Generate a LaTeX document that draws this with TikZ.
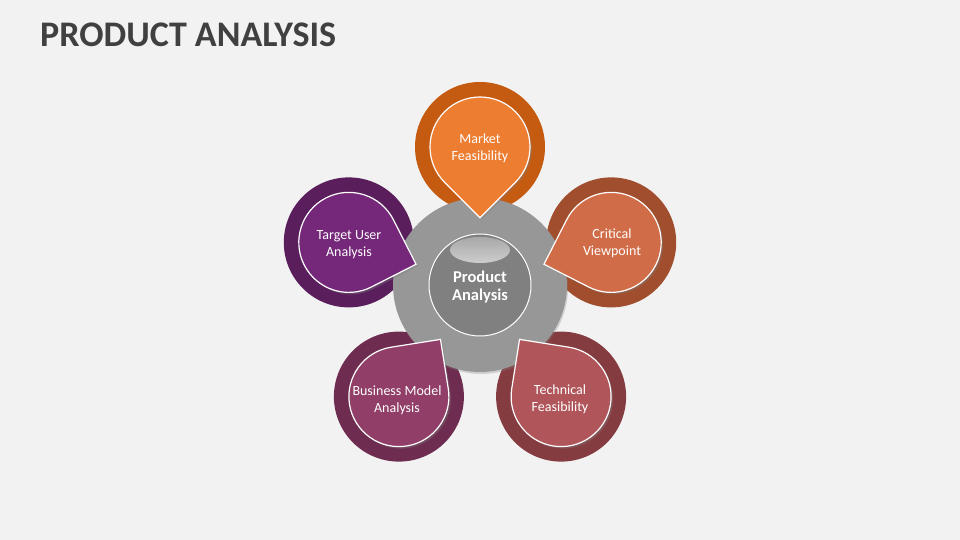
\documentclass[tikz,border=0pt]{standalone}
\usepackage{fontspec}
\setmainfont{Carlito}
\usetikzlibrary{shadows}
\definecolor{backdrop}{RGB}{242, 242, 242}
\definecolor{heading}{RGB}{64, 64, 64}
\definecolor{hubouter}{RGB}{151, 151, 151}
\definecolor{hubinner}{RGB}{128, 128, 128}
\definecolor{glosstop}{RGB}{168, 168, 168}
\definecolor{glossbottom}{RGB}{205, 205, 205}
\definecolor{marketdark}{RGB}{197, 90, 17}
\definecolor{marketlight}{RGB}{237, 125, 49}
\definecolor{criticaldark}{RGB}{160, 78, 45}
\definecolor{criticallight}{RGB}{208, 108, 72}
\definecolor{technicaldark}{RGB}{133, 60, 64}
\definecolor{technicallight}{RGB}{176, 86, 90}
\definecolor{businessdark}{RGB}{110, 45, 80}
\definecolor{businesslight}{RGB}{145, 62, 104}
\definecolor{targetdark}{RGB}{90, 30, 92}
\definecolor{targetlight}{RGB}{117, 40, 122}

\begin{document}
\begin{tikzpicture}[x=1pt, y=1pt,
    ring/.style={fill=#1},
    drop/.style={fill=#1, draw=white, line width=1.2pt, drop shadow={shadow xshift=2pt, shadow yshift=-2pt, opacity=0.35}},
    caption/.style={text=white, align=center, font=\fontsize{14}{17}\selectfont}]
    \fill[backdrop] (0,0) rectangle (960,540);

    \node[anchor=base west, inner sep=0, text=heading, font=\fontsize{36}{40}\selectfont\bfseries] (title) at (40,493) {PRODUCT ANALYSIS};

    \fill[ring=marketdark] (480,393) circle[radius=65];
    \fill[ring=criticaldark] (611.2,297.6) circle[radius=65];
    \fill[ring=technicaldark] (561.1,143.4) circle[radius=65];
    \fill[ring=businessdark] (398.9,143.4) circle[radius=65];
    \fill[ring=targetdark] (348.8,297.6) circle[radius=65];

    \fill[hubouter, drop shadow={shadow xshift=1pt, shadow yshift=-2pt, opacity=0.3}] (480,255) circle[radius=87];

    \filldraw[drop=marketlight, shift={(480,393)}] (315:50) arc[start angle=315, end angle=585, radius=50] -- (270:70.7) -- cycle;
    \filldraw[drop=criticallight, shift={(611.2,297.6)}] (243:50) arc[start angle=243, end angle=513, radius=50] -- (198:70.7) -- cycle;
    \filldraw[drop=technicallight, shift={(561.1,143.4)}] (171:50) arc[start angle=171, end angle=441, radius=50] -- (126:70.7) -- cycle;
    \filldraw[drop=businesslight, shift={(398.9,143.4)}] (99:50) arc[start angle=99, end angle=369, radius=50] -- (54:70.7) -- cycle;
    \filldraw[drop=targetlight, shift={(348.8,297.6)}] (27:50) arc[start angle=27, end angle=297, radius=50] -- (342:70.7) -- cycle;

    \node[circle, fill=hubinner, draw=white, line width=1pt, minimum size=102pt, inner sep=0] (hub) at (480,255) {};
    \shade[top color=glosstop, bottom color=glossbottom] (480,290) ellipse[x radius=30, y radius=13];
    \node[text=white, align=center, font=\fontsize{16.5}{18.5}\selectfont\bfseries] (hubtext) at (480,253) {Product\\Analysis};

    \node[caption] (market) at (480,392) {Market\\Feasibility};
    \node[caption] (critical) at (612,297) {Critical\\Viewpoint};
    \node[caption] (technical) at (560,141) {Technical\\Feasibility};
    \node[caption] (business) at (397,140) {Business Model\\Analysis};
    \node[caption] (target) at (349,295) {Target User\\Analysis};
\end{tikzpicture}
\end{document}
